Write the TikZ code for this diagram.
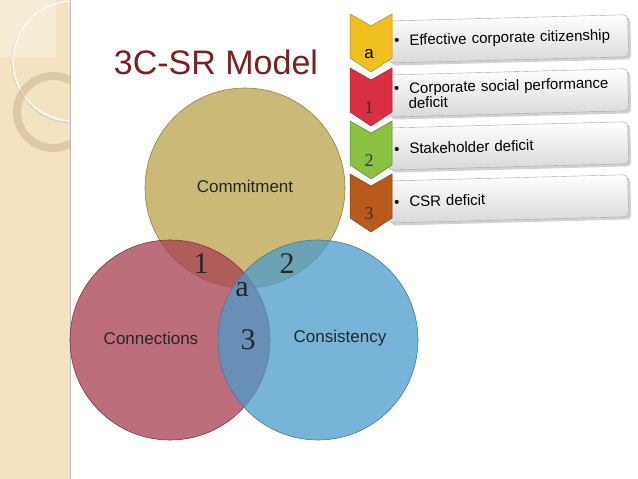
\documentclass[tikz,border=0pt]{standalone}
\usepackage{fontspec}
\setmainfont{Liberation Sans}
\newfontfamily\serifnum{Liberation Serif}
\usetikzlibrary{shadows}
\definecolor{beige}{HTML}{F3E3C0}
\definecolor{titlered}{HTML}{7A2020}
\definecolor{cyel}{HTML}{B9A24A}
\definecolor{cred}{HTML}{A83E52}
\definecolor{cblue}{HTML}{4C9CCB}
\definecolor{chy}{HTML}{F0C020}
\definecolor{chr}{HTML}{D83040}
\definecolor{chg}{HTML}{8CC040}
\definecolor{chb}{HTML}{B85A1A}
\tikzset{
  venn/.style={draw=#1!80!black, fill=#1, fill opacity=0.75, line width=0.6pt},
  vlabel/.style={font=\fontsize{17}{19}\selectfont, text=black!85},
  num/.style={font=\serifnum\fontsize{30}{32}\selectfont, text=black!85},
  item/.style={draw=gray!70, rounded corners=4pt, top color=white, bottom color=gray!30,
    minimum width=240pt, minimum height=42pt, text width=228pt, align=left, inner sep=5pt,
    font=\fontsize{15}{15}\selectfont, drop shadow={opacity=0.35}, rotate=1.5, anchor=west},
  chev/.style={draw=#1!70!black, fill=#1, line width=0.5pt}
}
\begin{document}
\begin{tikzpicture}[x=1pt,y=-1pt]
\useasboundingbox (0,0) rectangle (638,479);
\fill[white] (0,0) rectangle (638,479);
\fill[beige] (0,0) rectangle (70,479);
\draw[gray!50] (70,0) -- (70,479);
\begin{scope}
\clip (0,0) rectangle (70,479);
\fill[white, opacity=0.35] (0,0) rectangle (56,57);
\draw[gray!40, line width=0.8pt] (73,62) circle (61);
\draw[white, line width=1.2pt] (73,61) circle (60);
\draw[brown!30!beige!80!gray, line width=8pt, opacity=0.6] (53,112) circle (36);
\end{scope}
\node[font=\fontsize{34}{38}\selectfont, text=titlered] (title) at (216,62) {3C-SR Model};
\node[circle, minimum size=200pt, venn=cyel] (commit) at (245,188) {};
\node[circle, minimum size=200pt, venn=cred] (conn) at (170,340) {};
\node[circle, minimum size=200pt, venn=cblue] (cons) at (318,340) {};
\node[vlabel] (lc) at (245,186) {Commitment};
\node[vlabel] (ln) at (151,338) {Connections};
\node[vlabel] (ls) at (340,338) {Consistency};
\node[num] (n1) at (201,264) {1};
\node[num] (n2) at (287,264) {2};
\node[num] (na) at (242,290) {a};
\node[num] (n3) at (248,340) {3};
% list
\foreach \yc/\col/\lab/\txt [count=\i] in {42/chy/a/{•\ \ Effective corporate citizenship},
  96/chr/1/{•\ \ Corporate social performance\\\hspace*{0.95em}deficit},
  149/chg/2/{•\ \ Stakeholder deficit},
  202/chb/3/{•\ \ CSR deficit}}{
  \node[item] (it\i) at (388,\yc) {\txt};
  \draw[chev=\col] (350,\yc-28) -- (371,\yc-16) -- (392,\yc-28) -- (392,\yc+16) -- (371,\yc+30) -- (350,\yc+16) -- cycle;
  \node[font=\serifnum\fontsize{18}{18}\selectfont, text=black!80] (c\i) at (369,\yc+12) {\lab};
}
\node[font=\fontsize{17}{17}\selectfont, fill=chy, inner sep=0pt] at (369,54) {a};
\end{tikzpicture}
\end{document}
